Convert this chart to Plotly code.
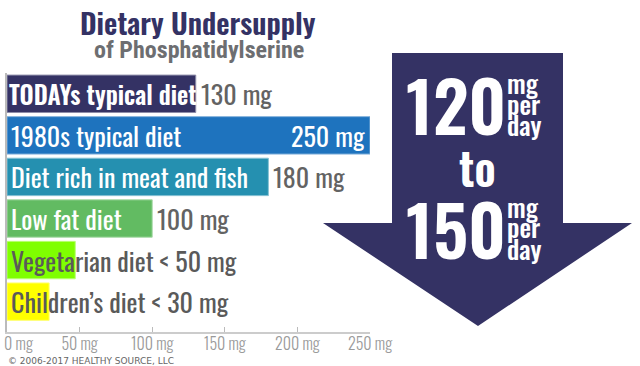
import plotly.graph_objects as go

# ---- data ----
categories = ["TODAYs typical diet", "1980s typical diet", "Diet rich in meat and fish",
              "Low fat diet", "Vegetarian diet", "Children\u2019s diet"]
values = [130, 250, 180, 100, 47, 29]
value_labels = ["130 mg", "250 mg", "180 mg", "100 mg", "< 50 mg", "< 30 mg"]
bar_colors = ["#343264", "#1e73be", "#2590b0", "#62bb62", "#7fff00", "#ffff00"]
tick_vals = [0, 50, 100, 150, 200, 250]
tick_labels = [f"{v} mg" for v in tick_vals]
title = "Dietary Undersupply"
subtitle = "of Phosphatidylserine"
range_low, range_high = "120", "150"
unit_words = ["mg", "per", "day"]
copyright_text = "\u00a9 2006-2017 HEALTHY SOURCE, LLC"

COND = "Oswald, Roboto Condensed, DejaVu Sans Condensed, sans-serif"
NAVY = "#343264"
GRAY = "#636363"

W, H = 640, 366
L, R, T, B = 7, 270, 73, 34
PW, PH = W - L - R, H - T - B


def px(xp):
    return (xp - L) / PW


def py(yp):
    return (H - B - yp) / PH


def tint(hex_color, f=0.45):
    r, g, b = (int(hex_color[k:k + 2], 16) for k in (1, 3, 5))
    r, g, b = (round(c + (255 - c) * f) for c in (r, g, b))
    return f"rgb({r},{g},{b})"


fig = go.Figure()
fig.add_trace(go.Bar(
    x=values, y=categories, orientation="h",
    marker=dict(color=bar_colors, line=dict(width=1, color=[tint(c) for c in bar_colors])),
    width=0.9, hoverinfo="skip", showlegend=False,
))

FS = 26
ann = []
for i, (cat, v, vl) in enumerate(zip(categories, values, value_labels)):
    if v >= 240:
        ann.append(dict(x=0, y=i, xref="x", yref="y", text=cat, showarrow=False,
                        xanchor="left", xshift=2, font=dict(family=COND, size=FS, color="white")))
        ann.append(dict(x=v, y=i, xref="x", yref="y", text=vl, showarrow=False,
                        xanchor="right", xshift=-3, font=dict(family=COND, size=FS, color="white")))
    elif v >= 100:
        ann.append(dict(x=0, y=i, xref="x", yref="y", text=cat,
                        showarrow=False, xanchor="left", xshift=0 if i == 0 else 2,
                        font=dict(family=COND, size=24.5 if i == 0 else FS, color="white",
                                  weight=600 if i == 0 else 400)))
        ann.append(dict(x=v, y=i, xref="x", yref="y", text=vl, showarrow=False,
                        xanchor="left", xshift=3, font=dict(family=COND, size=FS, color=GRAY)))
    else:
        ann.append(dict(x=0, y=i, xref="x", yref="y", text=f"{cat} {vl}", showarrow=False,
                        xanchor="left", xshift=2, font=dict(family=COND, size=FS, color="#5a5a5a")))

# titles
ann.append(dict(x=px(198), y=py(22), xref="paper", yref="paper", text=title,
                showarrow=False, xanchor="center", yanchor="middle",
                font=dict(family=COND, size=29, color=NAVY, weight=600)))
ann.append(dict(x=px(199), y=py(50), xref="paper", yref="paper", text=subtitle,
                showarrow=False, xanchor="center", yanchor="middle",
                font=dict(family="Roboto Condensed, " + COND, size=24, color="#6d6e71", weight=700)))

# arrow texts
for num, yc, ys in [(range_low, 103, [82, 103, 124]), (range_high, 227, [206, 227, 248])]:
    ann.append(dict(x=px(508), y=py(yc), xref="paper", yref="paper", text=num,
                    showarrow=False, xanchor="right", yanchor="middle",
                    font=dict(family=COND, size=70, color="white", weight=600)))
    for w, yy in zip(unit_words, ys):
        ann.append(dict(x=px(505), y=py(yy), xref="paper", yref="paper", text=w,
                        showarrow=False, xanchor="left", yanchor="middle",
                        font=dict(family=COND, size=26, color="white", weight=500)))
ann.append(dict(x=px(478), y=py(166), xref="paper", yref="paper", text="to",
                showarrow=False, xanchor="center", yanchor="middle",
                font=dict(family=COND, size=45, color="white", weight=600)))

ann.append(dict(x=px(6), y=py(361), xref="paper", yref="paper", text=copyright_text,
                showarrow=False, xanchor="left", yanchor="middle",
                font=dict(family="DejaVu Sans, sans-serif", size=9, color="#666666")))

# arrow shape
arrow_pts = [(392, 53), (563, 53), (563, 223), (632, 223), (478, 326), (323, 223), (392, 223)]
path = "M " + " L ".join(f"{px(x):.5f},{py(y):.5f}" for x, y in arrow_pts) + " Z"

ticktext = list(tick_labels)
ticktext[0] = "\u00a0" * 7 + ticktext[0]

fig.update_layout(
    width=W, height=H,
    margin=dict(l=L, r=R, t=T, b=B, pad=0, autoexpand=False),
    paper_bgcolor="white", plot_bgcolor="white",
    shapes=[dict(type="path", path=path, xref="paper", yref="paper",
                 fillcolor=NAVY, line=dict(width=0), layer="below")],
    annotations=ann,
    xaxis=dict(range=[0, 250], tickvals=tick_vals, ticktext=ticktext,
               ticks="inside", ticklen=5, tickcolor="#bbbbbb", tickwidth=1,
               showline=True, linecolor="#cccccc", linewidth=1.5,
               showgrid=False, zeroline=False, fixedrange=True, automargin=False,
               ticklabeloverflow="allow", ticklabelstandoff=-3,
               tickfont=dict(family=COND, size=16, color="#9a9a9a", weight=300)),
    yaxis=dict(range=[5.73, -0.5], showticklabels=False, ticks="",
               showline=True, linecolor="#bbbbbb", linewidth=1.5,
               showgrid=False, zeroline=False, fixedrange=True, automargin=False),
)

fig.write_html("out.html", config={"displayModeBar": False},
               post_script="document.body.style.margin='0';")
